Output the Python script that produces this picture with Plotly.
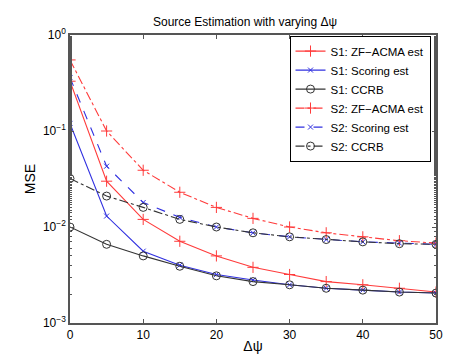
import plotly.graph_objects as go

dpsi = [0, 5, 10, 15, 20, 25, 30, 35, 40, 45, 50]
s1_zf = [0.33, 0.030, 0.012, 0.0071, 0.0050, 0.0038, 0.0032, 0.0027, 0.0025, 0.0023, 0.0021]
s1_sc = [0.12, 0.013, 0.0056, 0.0040, 0.0032, 0.0028, 0.0025, 0.0023, 0.0022, 0.0021, 0.00205]
s1_cr = [0.010, 0.0066, 0.0050, 0.0039, 0.0031, 0.0027, 0.0025, 0.0023, 0.0022, 0.0021, 0.00205]
s2_zf = [0.55, 0.10, 0.039, 0.023, 0.016, 0.0123, 0.010, 0.0087, 0.0079, 0.0072, 0.0068]
s2_sc = [0.36, 0.043, 0.018, 0.0126, 0.010, 0.0087, 0.0079, 0.0074, 0.0070, 0.0068, 0.0066]
s2_cr = [0.032, 0.021, 0.016, 0.012, 0.010, 0.0087, 0.0079, 0.0074, 0.0070, 0.0067, 0.0066]

ytick_vals = [1e-3, 1e-2, 1e-1, 1]
ytick_text = ["10<sup>−3</sup>", "10<sup>−2</sup>", "10<sup>−1</sup>", "10<sup>0</sup>"]

RED = "#ff3b3b"
BLUE = "#3030e0"
BLACK = "#333333"

fig = go.Figure()

def add(y, name, color, dash, sym, size=8):
    fig.add_trace(go.Scatter(
        x=dpsi, y=y, name=name, mode="lines+markers",
        line=dict(color=color, width=1.1, dash=dash),
        marker=dict(symbol=sym, size=size, color="rgba(0,0,0,0)",
                    line=dict(color=color, width=1)),
    ))

add(s1_zf, "S1: ZF−ACMA est", RED, "solid", "cross-thin", 8)
add(s1_sc, "S1: Scoring est", BLUE, "solid", "x-thin", 5)
add(s1_cr, "S1: CCRB", BLACK, "solid", "circle", 8)
add(s2_zf, "S2: ZF−ACMA est", RED, "dashdot", "cross-thin", 8)
add(s2_sc, "S2: Scoring est", BLUE, "dash", "x-thin", 5)
add(s2_cr, "S2: CCRB", BLACK, "dashdot", "circle", 8)

fig.update_layout(
    width=474, height=355,
    margin=dict(l=62, r=46, t=27, b=40, autoexpand=False),
    paper_bgcolor="white", plot_bgcolor="white",
    font=dict(family="Liberation Sans, Arial, sans-serif", size=12, color="black"),
    title=dict(text="Source Estimation with varying Δψ", x=0.5, xanchor="center",
               y=0.962, yanchor="middle", font=dict(size=12)),
    showlegend=True,
    legend=dict(x=0.985, y=0.998, xanchor="right", yanchor="top",
                bgcolor="white", bordercolor="black", borderwidth=1,
                font=dict(size=11.5), tracegroupgap=0, itemwidth=30,
                itemsizing="trace"),
)
fig.update_xaxes(
    range=[0, 50], tickvals=[0, 10, 20, 30, 40, 50],
    ticks="inside", ticklen=4, tickcolor="#555555",
    showline=True, linecolor="#555555", linewidth=1.5, mirror="ticks",
    showgrid=False, zeroline=False, automargin=False,
    title=dict(text="Δψ", standoff=0),
)
fig.update_yaxes(
    type="log", range=[-3, 0], tickvals=ytick_vals, ticktext=ytick_text,
    ticks="inside", ticklen=4, tickcolor="#555555",
    minor=dict(ticks="inside", ticklen=2, tickcolor="#555555", showgrid=False),
    showline=True, linecolor="#555555", linewidth=1.5, mirror="ticks",
    showgrid=False, zeroline=False, automargin=False,
    title=dict(text="MSE", standoff=4),
)

fig.write_html("out.html")
